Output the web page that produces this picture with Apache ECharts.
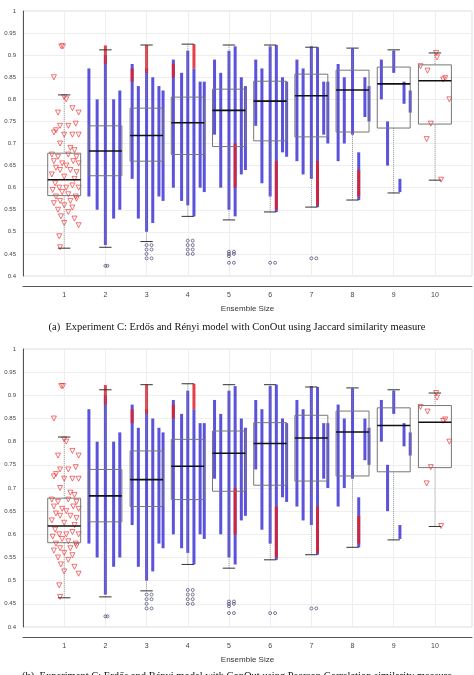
<!DOCTYPE html><html><head><meta charset="utf-8"><script src="https://cdn.jsdelivr.net/npm/echarts@6/dist/echarts.min.js"></script>
<style>body{margin:0;background:#fff}#c{width:474px;height:675px}</style></head><body><div id="c"></div><script>
const sizes=[1,2,3,4,5,6,7,8,9,10];
// [size, min, q1, median, q3, max]
const boxes=[[1,0.463,0.582,0.618,0.678,0.81],[2,0.465,0.627,0.683,0.74,0.912],[3,0.478,0.66,0.718,0.78,0.923],[4,0.535,0.675,0.747,0.805,0.925],[5,0.527,0.693,0.775,0.823,0.923],[6,0.545,0.706,0.796,0.841,0.923],[7,0.556,0.715,0.808,0.857,0.918],[8,0.572,0.726,0.821,0.866,0.916],[9,0.588,0.735,0.835,0.873,0.912],[10,0.617,0.744,0.842,0.878,0.905]];
// dense point strips [x, low, high]
const blueStrips=[[1.6,0.58,0.87],[1.8,0.55,0.8],[2.0,0.47,0.9],[2.2,0.53,0.8],[2.35,0.55,0.82],
[2.65,0.62,0.88],[2.8,0.53,0.83],[3.0,0.5,0.87],[3.15,0.52,0.85],[3.3,0.58,0.83],[3.4,0.57,0.82],
[3.65,0.6,0.89],[3.85,0.57,0.86],[4.0,0.56,0.91],[4.15,0.535,0.87],[4.3,0.6,0.84],[4.4,0.59,0.84],
[4.65,0.72,0.89],[4.8,0.6,0.86],[5.0,0.55,0.91],[5.15,0.535,0.92],[5.3,0.63,0.85],[5.4,0.64,0.83],
[5.65,0.74,0.89],[5.8,0.61,0.87],[6.0,0.58,0.92],[6.15,0.545,0.923],[6.3,0.68,0.85],[6.4,0.67,0.84],
[6.65,0.66,0.89],[6.8,0.63,0.87],[7.0,0.62,0.92],[7.15,0.556,0.918],[7.3,0.72,0.84],[7.4,0.7,0.84],
[7.65,0.66,0.88],[7.8,0.7,0.85],[8.0,0.72,0.915],[8.15,0.572,0.68],[8.3,0.76,0.85],[8.4,0.75,0.83],
[8.7,0.8,0.89],[8.85,0.65,0.75],[9.0,0.86,0.91],[9.15,0.59,0.62],[9.25,0.79,0.84],[9.4,0.77,0.82]];
const redStrips=[[2.0,0.88,0.922],[3.0,0.86,0.923],[4.15,0.87,0.925],[5.15,0.6,0.7],[6.15,0.55,0.66],[7.15,0.56,0.66],[8.15,0.58,0.64],[2.65,0.84,0.87],[3.65,0.85,0.88]];
const outliers=[[2,0.423],[2.05,0.423],[3,0.47],[3,0.46],[3,0.45],[3,0.44],[3.12,0.47],[3.12,0.46],[3.12,0.44],[4,0.48],[4,0.47],[4,0.46],[4,0.45],[4.12,0.48],[4.12,0.47],[4.12,0.46],[4.12,0.45],[5,0.455],[5,0.45],[5,0.445],[5,0.43],[5.12,0.455],[5.12,0.45],[5.12,0.43],[6,0.43],[6.12,0.43],[7,0.44],[7.12,0.44]];
const redTri=[[0.93,0.92],[0.97,0.92],[0.75,0.85],[1.0,0.805],[1.05,0.8],[1.2,0.78],[0.85,0.77],[1.35,0.77],[0.75,0.725],[0.9,0.74],[1.1,0.74],[1.28,0.745],[0.8,0.73],[1.0,0.72],[1.2,0.72],[1.35,0.72],[0.9,0.7],[1.15,0.69],[1.25,0.685],[0.7,0.675],[0.85,0.67],[1.1,0.675],[1.3,0.67],[0.75,0.66],[0.95,0.655],[1.05,0.65],[1.22,0.66],[1.35,0.655],[0.8,0.645],[0.9,0.64],[1.15,0.64],[1.3,0.635],[0.7,0.63],[1.0,0.625],[1.25,0.62],[0.78,0.61],[0.88,0.6],[1.05,0.6],[1.2,0.605],[1.35,0.6],[0.72,0.595],[0.95,0.59],[1.1,0.585],[1.28,0.58],[0.8,0.58],[0.9,0.57],[1.15,0.57],[1.3,0.575],[0.75,0.565],[1.0,0.56],[1.2,0.555],[0.85,0.55],[1.1,0.545],[0.92,0.535],[1.25,0.53],[1.0,0.52],[1.35,0.515],[0.88,0.49],[0.9,0.465],[9.65,0.875],[9.82,0.865],[10.03,0.905],[10.05,0.895],[10.25,0.848],[10.2,0.845],[10.35,0.8],[9.9,0.745],[9.8,0.71],[10.15,0.618]];
const ticksY=[0.4,0.45,0.5,0.55,0.6,0.65,0.7,0.75,0.8,0.85,0.9,0.95,1];
const grids=[{top:11,height:265},{top:349,height:278}];
const opt={animation:false,grid:[],xAxis:[],yAxis:[],series:[],title:[]};
grids.forEach((g,i)=>{
 opt.grid.push({left:23,right:2,top:g.top,height:g.height,outerBoundsMode:'none',containLabel:false,show:true,borderColor:'#ddd',backgroundColor:'transparent'});
 opt.xAxis.push({gridIndex:i,type:'value',min:0,max:10.9,interval:1,offset:10,name:'Ensemble Size',nameLocation:'middle',nameGap:19,nameTextStyle:{fontSize:8,color:'#333',fontFamily:'Liberation Sans'},
  axisLine:{show:true,lineStyle:{color:'#555'}},axisTick:{show:false},splitLine:{lineStyle:{color:'#eee'}},
  axisLabel:{fontSize:7,color:'#444',margin:6,formatter:v=>sizes.includes(v)?v:''}});
 opt.yAxis.push({gridIndex:i,type:'value',min:0.4,max:1,interval:0.05,offset:4,name:'ROC AUC',nameLocation:'middle',nameGap:17,nameTextStyle:{fontSize:8,color:'#333'},
  axisLine:{show:true,lineStyle:{color:'#555'}},axisTick:{show:false},splitLine:{lineStyle:{color:'#eee'}},
  axisLabel:{fontSize:6,color:'#444',margin:3,formatter:v=>ticksY.some(t=>Math.abs(t-v)<1e-6)?(+v.toFixed(2)).toString():''}});
 const strip=(data,color)=>({type:'custom',xAxisIndex:i,yAxisIndex:i,data,z:3,renderItem:(p,api)=>{
   const a=api.coord([api.value(0),api.value(2)]),b=api.coord([api.value(0),api.value(1)]);
   return {type:'rect',shape:{x:a[0]-1.5,y:a[1],width:3,height:b[1]-a[1]},style:{fill:color}};}});
 opt.series.push(strip(blueStrips,'rgba(50,40,210,0.8)'));
 opt.series.push(strip(redStrips,'rgba(225,30,40,0.85)'));
 opt.series.push({type:'scatter',xAxisIndex:i,yAxisIndex:i,data:outliers,symbol:'circle',symbolSize:3,itemStyle:{color:'transparent',borderColor:'#336',borderWidth:0.8},z:3});
 opt.series.push({type:'scatter',xAxisIndex:i,yAxisIndex:i,data:redTri,symbol:'triangle',symbolRotate:180,symbolSize:5,itemStyle:{color:'transparent',borderColor:'#e22',borderWidth:0.8},z:3});
 opt.series.push({type:'custom',xAxisIndex:i,yAxisIndex:i,data:boxes,z:5,renderItem:(p,api)=>{
   const x=api.value(0),w=0.4,c=0.15;
   const P=(xx,yy)=>api.coord([xx,yy]);
   const mn=P(x,api.value(1)),q1=P(x-w,api.value(2)),q3=P(x+w,api.value(4)),mx=P(x,api.value(5));
   const md1=P(x-w,api.value(3)),md2=P(x+w,api.value(3));
   const cl=P(x-c,0.5)[0],cr=P(x+c,0.5)[0];
   return {type:'group',children:[
    {type:'line',shape:{x1:mx[0],y1:mx[1],x2:mx[0],y2:q3[1]},style:{stroke:'#888',lineWidth:0.8,lineDash:[1,1]}},
    {type:'line',shape:{x1:mn[0],y1:mn[1],x2:mn[0],y2:q1[1]},style:{stroke:'#888',lineWidth:0.8,lineDash:[1,1]}},
    {type:'line',shape:{x1:cl,y1:mx[1],x2:cr,y2:mx[1]},style:{stroke:'#333',lineWidth:1}},
    {type:'line',shape:{x1:cl,y1:mn[1],x2:cr,y2:mn[1]},style:{stroke:'#333',lineWidth:1}},
    {type:'rect',shape:{x:q1[0],y:q3[1],width:q3[0]-q1[0],height:q1[1]-q3[1]},style:{fill:'none',stroke:'#777',lineWidth:1}},
    {type:'line',shape:{x1:md1[0],y1:md1[1],x2:md2[0],y2:md1[1]},style:{stroke:'#111',lineWidth:1.6}}]};}});
});
opt.title=[{text:'(a)  Experiment C: Erdős and Rényi model with ConOut using Jaccard similarity measure',left:'center',top:317,textStyle:{fontSize:10.5,fontWeight:'normal',fontFamily:'Liberation Serif',color:'#111'}},
{text:'(b)  Experiment C: Erdős and Rényi model with ConOut using Pearson Correlation similarity measure',left:'center',top:666,textStyle:{fontSize:10.5,fontWeight:'normal',fontFamily:'Liberation Serif',color:'#111'}}];
echarts.init(document.getElementById('c')).setOption(opt);
</script></body></html>
